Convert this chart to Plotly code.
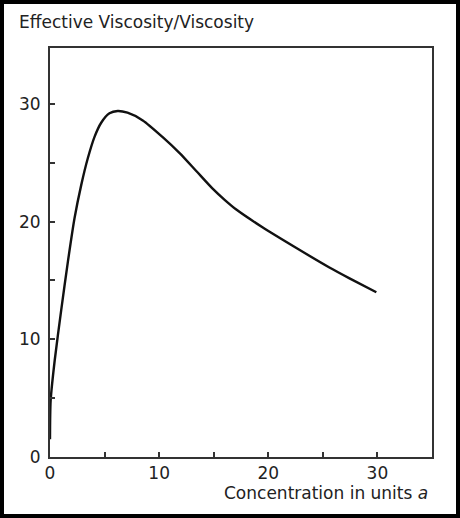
import plotly.graph_objects as go

conc = [0, 0.06, 0.43, 1.03, 1.64, 2.25, 2.86, 3.47, 4.08, 4.69, 5.45, 6.2, 7.1, 8.5, 10.3, 11.9, 13.4, 14.9, 16.0, 17.1, 19.5, 22.5, 25.6, 27.4, 29.9]
visc = [1.5, 4.8, 8.2, 12.5, 16.6, 20.3, 23.1, 25.4, 27.2, 28.4, 29.2, 29.4, 29.25, 28.6, 27.2, 25.8, 24.3, 22.8, 21.85, 21.0, 19.5, 17.8, 16.1, 15.2, 14.0]

tick_vals = [0, 5, 10, 15, 20, 25, 30]
tick_text = ["0", "", "10", "", "20", "", "30"]

W, H = 460, 518
L, R, T, B = 50, 28, 48, 61
pw, ph = W - L - R, H - T - B

def px(xp):
    return (xp - L) / pw

def py(yp):
    return (H - B - yp) / ph

font = "DejaVu Sans, sans-serif"

fig = go.Figure()
fig.add_trace(go.Scatter(x=conc, y=visc, mode="lines",
                         line=dict(color="#111", width=2.4, shape="spline", smoothing=0.7),
                         hoverinfo="skip", showlegend=False))

axis_common = dict(showgrid=False, zeroline=False, showline=True, linecolor="#333", linewidth=2,
                   mirror=True, ticks="inside", ticklen=5, tickwidth=1.5, tickcolor="#333",
                   tickvals=tick_vals, ticktext=tick_text,
                   tickfont=dict(family=font, size=17, color="#222"))

fig.update_xaxes(range=[0, 35], **axis_common)
fig.update_yaxes(range=[0, 34.75], ticklabelstandoff=4, **axis_common)

fig.update_layout(
    width=W, height=H,
    margin=dict(l=L, r=R, t=T, b=B),
    paper_bgcolor="white", plot_bgcolor="white",
    annotations=[
        dict(text="Effective Viscosity/Viscosity", xref="paper", yref="paper",
             x=px(17), y=py(22), xanchor="left", yanchor="middle", showarrow=False,
             font=dict(family=font, size=17, color="#222")),
        dict(text="Concentration in units <i>a</i>", xref="paper", yref="paper",
             x=px(430), y=py(493), xanchor="right", yanchor="middle", showarrow=False,
             font=dict(family=font, size=17, color="#222")),
    ],
    shapes=[
        dict(type="rect", xref="paper", yref="paper",
             x0=px(0), x1=px(W), y0=py(H), y1=py(0),
             line=dict(color="black", width=8), fillcolor="rgba(0,0,0,0)", layer="above"),
    ],
)

fig.write_html("out.html", config={"displayModeBar": False},
               post_script="document.body.style.margin='0';")
